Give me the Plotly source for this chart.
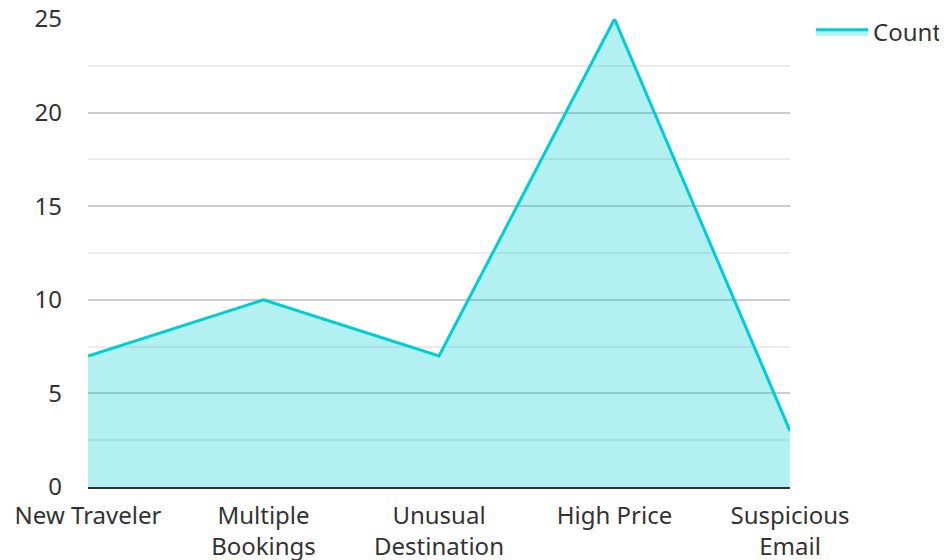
import plotly.graph_objects as go

categories = ["New Traveler", "Multiple<br>Bookings", "Unusual<br>Destination", "High Price", "Suspicious<br>Email"]
counts = [7, 10, 7, 25, 3]

fig = go.Figure()
fig.add_trace(go.Scatter(
    x=categories, y=counts, name="Count", mode="lines",
    line=dict(color="#00CED1", width=3),
    fill="tozeroy", fillcolor="rgba(0,206,209,0.3)",
))

fig.update_layout(
    width=947, height=560,
    margin=dict(l=80, r=165, t=11, b=81, autoexpand=False),
    paper_bgcolor="white", plot_bgcolor="white",
    font=dict(family="Noto Sans", size=24, color="#333333"),
    showlegend=True,
    legend=dict(x=1.03, y=1.02, xanchor="left", yanchor="top", font=dict(size=24),
                itemwidth=52, bgcolor="rgba(0,0,0,0)"),
    xaxis=dict(showgrid=False, showline=True, linecolor="#333333", linewidth=2,
               ticks="", range=[0, 4], tickfont=dict(size=24), automargin=False,
               ticklabelstandoff=6, ticklabeloverflow="allow"),
    yaxis=dict(range=[0, 25], dtick=5, showgrid=True, gridcolor="#cccccc", gridwidth=1.5,
               zeroline=False, showline=False, ticks="", tickfont=dict(size=24),
               automargin=False, ticklabelstandoff=25, ticklabeloverflow="allow",
               minor=dict(dtick=2.5, showgrid=True, gridcolor="#ebebeb", gridwidth=1.5)),
)
fig.write_html("out.html")
